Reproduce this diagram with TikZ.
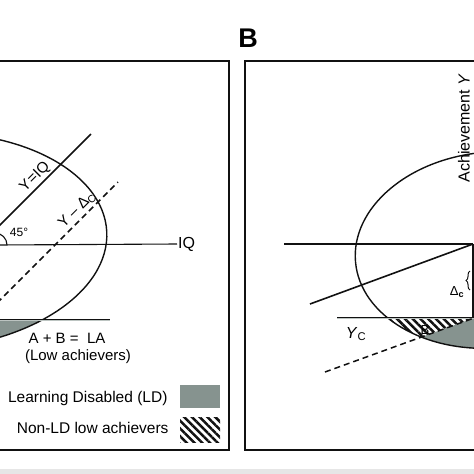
\documentclass[tikz,border=0pt]{standalone}
\usepackage{fontspec}
\setmainfont{Liberation Sans}
\usepackage{tikz}
\usetikzlibrary{patterns.meta,decorations.pathreplacing,calc}
\definecolor{ink}{HTML}{111111}
\definecolor{ldgray}{HTML}{86938F}
\definecolor{band}{HTML}{E6E6E6}
\tikzset{
  frame/.style={ink,line width=1.3pt},
  curve/.style={ink,line width=1.4pt},
  axisline/.style={ink,line width=1.1pt},
  fitline/.style={ink,line width=1.6pt},
  shiftline/.style={ink,line width=1.5pt,dash pattern=on 6pt off 4pt},
  cutline/.style={ink,line width=1pt,double=ldgray!55,double distance=0.9pt},
  hatch/.style={pattern={Lines[angle=-45,distance=5.5pt,line width=2.5pt]},pattern color=ink},
  keybox/.style={minimum width=40pt,inner sep=0pt}
}

\begin{document}
\begin{tikzpicture}[x=1pt,y=-1pt,font=\fontsize{16}{18}\selectfont]
\useasboundingbox (0,0) rectangle (474,474);
\clip (0,0) rectangle (474,474);

% strip under the panels
\fill[band] (0,469) rectangle (474,474);

% panel letter
\node[font=\fontsize{27}{30}\selectfont\bfseries] (lblB) at (248,38) {B};

% ---------------- left panel, cut at the image edge
\draw[frame] (-2,61) -- (229,61) -- (229,450) -- (-2,450);

% scatter ellipse, shaded part under the cut
\coordinate (eA) at (-74,241);
\begin{scope}
  \clip (-5,320) rectangle (229,450);
  \fill[ldgray,rotate around={3:(eA)}] (eA) ellipse [x radius=181,y radius=108];
\end{scope}
\draw[curve,rotate around={3:(eA)}] (eA) ellipse [x radius=181,y radius=108];

% IQ axis
\node[anchor=west,inner sep=1pt] (iqA) at (177,244) {IQ};
\draw[axisline] (-2,245) -- (iqA.west);

% cut-off line
\draw[cutline] (-2,320) -- (110,320);

% 45 degree lines
\coordinate (oA) at (-20,245);
\coordinate (tA) at (91,134);
\coordinate (dA) at (-10,310);
\coordinate (uA) at (118,182);
\draw[fitline] (oA) -- (tA);
\draw[shiftline] (dA) -- (uA);
\draw[axisline] (-5,245) ++(12,0) arc (0:-120:12);

\node[rotate=45,font=\fontsize{15}{17}\selectfont] (eqA) at (35,177) {Y\kern0.6pt=\kern0.6pt IQ};
\node[rotate=45,font=\fontsize{15}{17}\selectfont] (shiftA) at (77,210) {Y – Δ\textsubscript{C}};
\node[font=\fontsize{12}{14}\selectfont] (degA) at (19,232) {45°};

\node[font=\fontsize{15}{17}\selectfont] (sumA) at (67,338) {A + B =\ \ LA};
\node[font=\fontsize{15}{17}\selectfont] (lowA) at (78,357) {(Low achievers)};

% legend
\node[anchor=east,font=\fontsize{15.5}{18}\selectfont] (ldTxt) at (171,398) {Learning Disabled (LD)};
\node[anchor=east,font=\fontsize{15.5}{18}\selectfont] (nonTxt) at (172,428) {Non-LD low achievers};
\node[keybox,minimum height=23pt,fill=ldgray] (ldKey) at (200,396.5) {};
\node[keybox,minimum height=25pt,hatch] (nonKey) at (200,429.5) {};

% ---------------- right panel, cut at the image edge
\draw[frame] (480,61) -- (245,61) -- (245,450) -- (480,450);

\coordinate (eB) at (492,250);
\coordinate (dS) at (325,372);
\coordinate (dE) at (474,318);

% hatched and shaded parts of the ellipse
\begin{scope}
  \clip[rotate around={5:(eB)}] (eB) ellipse [x radius=137,y radius=98];
  \fill[hatch] (300,318) -- (dE) -- (300,381) -- cycle;
  \fill[ldgray] (300,381) -- (dE) -- (480,318) -- (480,400) -- (300,400) -- cycle;
\end{scope}
\draw[curve,rotate around={5:(eB)}] (eB) ellipse [x radius=137,y radius=98];

% mean line, fitted line and the drop
\coordinate (mB) at (473,244);
\coordinate (sB) at (310,304);
\draw[axisline] (284,244) -- (mB);
\draw[fitline] (sB) -- (mB);
\draw[fitline] (mB) -- (473,318);
\draw[ink,line width=1pt,decorate,decoration={brace,amplitude=4pt}] (470,290) -- (470,271);

% cut-off line and shifted line
\draw[cutline] (337,318) -- (480,318);
\draw[shiftline] (dS) -- (dE);

\node[font=\fontsize{13}{15}\selectfont] (dcB) at (457,292) {Δ\textsubscript{\textbf{c}}};
\node[rotate=90] (achB) at (464,128) {Achievement \textit{Y}};
\node (ycB) at (356,334) {\textit{Y}\textsubscript{C}};
\node[font=\fontsize{13}{15}\selectfont] (bB) at (425,330) {B};

\end{tikzpicture}
\end{document}
